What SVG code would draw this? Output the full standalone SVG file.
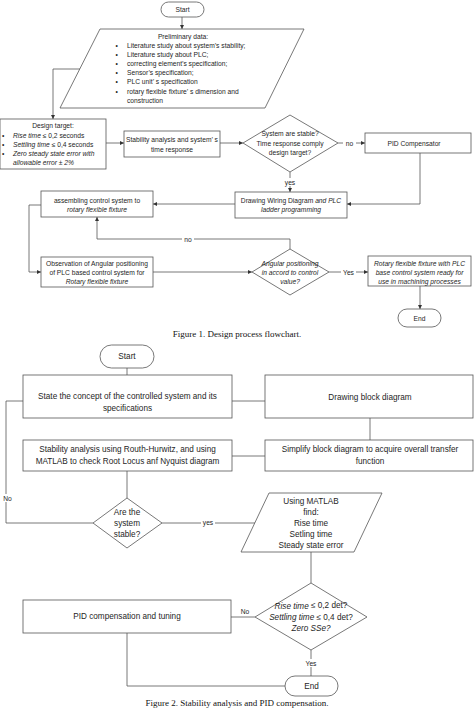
<svg xmlns="http://www.w3.org/2000/svg" width="474" height="708" viewBox="0 0 474 708">
<style>
.s{fill:#fff;stroke:#555;stroke-width:0.8}
.c{fill:none;stroke:#555;stroke-width:0.8}
.a{marker-end:url(#ar)}
.t1{font-family:"Liberation Sans",Arial,sans-serif;font-size:6.7px;fill:#1e1e1e}
.t2{font-family:"Liberation Sans",Arial,sans-serif;font-size:8.2px;fill:#1e1e1e}
.m{text-anchor:middle}
.i{font-style:italic}
.cap{font-family:"Liberation Serif","Times New Roman",serif;font-size:9px;fill:#111;text-anchor:middle}
.bg{fill:#fff}
</style>
<defs>
<marker id="ar" viewBox="0 0 6 6" refX="6" refY="3" markerWidth="4" markerHeight="4" orient="auto" markerUnits="userSpaceOnUse"><path d="M0,0 L6,3 L0,6 z" fill="#333"/></marker>
</defs>
<rect width="474" height="708" fill="#fff"/>

<!-- Figure 1 connectors -->
<g id="connectors1">
<path class="c a" d="M182,17 V29"/>
<path class="c a" d="M80,69 H53 V119"/>
<path class="c a" d="M106,143 H124"/>
<path class="c a" d="M220,143 H243"/>
<path class="c a" d="M338,143 H365"/>
<path class="c a" d="M290,172 V192"/>
<path class="c a" d="M420,153 V204 H347"/>
<path class="c a" d="M235,204 H153"/>
<path class="c a" d="M41,205 H29 V272 H41"/>
<path class="c a" d="M153,272 H252"/>
<path class="c a" d="M290,249 V239 H97 V217"/>
<path class="c a" d="M329,272 H368"/>
<path class="c a" d="M420,286 V309"/>
<rect class="bg" x="343" y="139" width="13" height="8"/>
<text class="t1 m" x="349.5" y="143" dominant-baseline="central">no</text>
<rect class="bg" x="283" y="178" width="14" height="8"/>
<text class="t1 m" x="290" y="182" dominant-baseline="central">yes</text>
<rect class="bg" x="182" y="235" width="12" height="8"/>
<text class="t1 m" x="188" y="239" dominant-baseline="central">no</text>
<rect class="bg" x="341" y="268" width="15" height="8"/>
<text class="t1 m" x="348.5" y="272" dominant-baseline="central">Yes</text>
</g>

<g id="start1">
<rect class="s" x="161" y="2" width="43" height="15" rx="7.5"/>
<text class="t1 m" x="182.5" y="9.8" dominant-baseline="central">Start</text>
</g>

<g id="preliminary">
<polygon class="s" points="100,29 304,29 265,108 60,108"/>
<text class="t1 m" x="183" y="36" dominant-baseline="central">Preliminary data:</text>
<g class="t1">
<text x="115.5" y="45.3" dominant-baseline="central">•</text>
<text x="127" y="45.3" dominant-baseline="central">Literature study about system’s stability;</text>
<text x="115.5" y="54.3" dominant-baseline="central">•</text>
<text x="127" y="54.3" dominant-baseline="central">Literature study about PLC;</text>
<text x="115.5" y="63.3" dominant-baseline="central">•</text>
<text x="127" y="63.3" dominant-baseline="central">correcting element’s specification;</text>
<text x="115.5" y="72.3" dominant-baseline="central">•</text>
<text x="127" y="72.3" dominant-baseline="central">Sensor’s specification;</text>
<text x="115.5" y="81.6" dominant-baseline="central">•</text>
<text x="127" y="81.6" dominant-baseline="central">PLC unit’ s specification</text>
<text x="115.5" y="91" dominant-baseline="central">•</text>
<text x="127" y="91" dominant-baseline="central">rotary flexible fixture’ s dimension and</text>
<text x="127" y="100.5" dominant-baseline="central">construction</text>
</g>
</g>

<g id="design-target">
<rect class="s" x="0" y="119" width="106" height="50"/>
<text class="t1 m" x="53" y="125.5" dominant-baseline="central">Design target:</text>
<g class="t1">
<text x="2" y="135" dominant-baseline="central">•</text>
<text x="13" y="135" dominant-baseline="central"><tspan class="i">Rise time</tspan> ≤ 0,2 seconds</text>
<text x="2" y="144" dominant-baseline="central">•</text>
<text x="13" y="144" dominant-baseline="central"><tspan class="i">Settling time</tspan> ≤ 0,4 seconds</text>
<text x="2" y="153" dominant-baseline="central">•</text>
<text class="i" x="13" y="153" dominant-baseline="central">Zero steady state error with</text>
<text class="i" x="13" y="162" dominant-baseline="central">allowable error ± 2%</text>
</g>
</g>

<g id="stability1">
<rect class="s" x="124" y="131" width="96" height="26"/>
<text class="t1 m" x="172" y="139" dominant-baseline="central">Stability analysis and system’ s</text>
<text class="t1 m" x="172" y="149" dominant-baseline="central">time response</text>
</g>

<g id="decision1">
<polygon class="s" points="290,115 338,143 290,172 243,143"/>
<text class="t1 m" x="290" y="133.5" dominant-baseline="central">System are stable?</text>
<text class="t1 m" x="290" y="143" dominant-baseline="central">Time response comply</text>
<text class="t1 m" x="290" y="152.5" dominant-baseline="central">design target?</text>
</g>

<g id="pid1">
<rect class="s" x="365" y="133" width="106" height="20"/>
<text class="t1 m" x="414" y="143" dominant-baseline="central">PID Compensator</text>
</g>

<g id="wiring">
<rect class="s" x="235" y="192" width="112" height="26"/>
<text class="t1 m" x="291" y="200" dominant-baseline="central">Drawing Wiring Diagram <tspan class="i">and PLC</tspan></text>
<text class="t1 m i" x="291" y="209.5" dominant-baseline="central">ladder programming</text>
</g>

<g id="assembling">
<rect class="s" x="41" y="191" width="112" height="26"/>
<text class="t1 m" x="97" y="200" dominant-baseline="central">assembling  control system to</text>
<text class="t1 m i" x="97" y="209.5" dominant-baseline="central">rotary flexible fixture</text>
</g>

<g id="observation">
<rect class="s" x="41" y="257" width="112" height="30"/>
<text class="t1 m" x="97" y="263" dominant-baseline="central">Observation of Angular positioning</text>
<text class="t1 m" x="97" y="272" dominant-baseline="central">of PLC based control system for</text>
<text class="t1 m i" x="97" y="281" dominant-baseline="central">Rotary flexible fixture</text>
</g>

<g id="decision2">
<polygon class="s" points="290,249 329,272 290,295 252,272"/>
<text class="t1 m i" x="290" y="263" dominant-baseline="central">Angular positioning</text>
<text class="t1 m i" x="290" y="272" dominant-baseline="central">in accord to control</text>
<text class="t1 m i" x="290" y="281" dominant-baseline="central">value?</text>
</g>

<g id="ready">
<rect class="s" x="368" y="256" width="103" height="30"/>
<text class="t1 m i" x="419.5" y="263" dominant-baseline="central">Rotary flexible fixture with PLC</text>
<text class="t1 m i" x="419.5" y="272" dominant-baseline="central">base control system ready for</text>
<text class="t1 m i" x="419.5" y="281" dominant-baseline="central">use in machining processes</text>
</g>

<g id="end1">
<rect class="s" x="398" y="309" width="43" height="18" rx="9"/>
<text class="t1 m" x="419.5" y="318" dominant-baseline="central">End</text>
</g>

<text class="cap" x="237" y="337">Figure 1. Design process flowchart.</text>

<!-- Figure 2 connectors -->
<g id="connectors2">
<path class="c" d="M127,368 V375"/>
<path class="c" d="M232,401 H265"/>
<path class="c" d="M370,418 V440"/>
<path class="c" d="M232,456 H265"/>
<path class="c" d="M127,471 V498"/>
<path class="c" d="M93,523 H6 V401 H23"/>
<path class="c" d="M162,523 H255"/>
<path class="c" d="M311,552 V583"/>
<path class="c" d="M255,617 H231"/>
<path class="c" d="M311,650 V676"/>
<path class="c" d="M127,633 V686 H285"/>
<rect class="bg" x="2" y="494" width="11" height="8"/>
<text class="t1 m" x="7.5" y="498" dominant-baseline="central">No</text>
<rect class="bg" x="201" y="519" width="14" height="8"/>
<text class="t1 m" x="208" y="522.5" dominant-baseline="central">yes</text>
<text class="t1 m" x="245" y="611" dominant-baseline="central">No</text>
<rect class="bg" x="304" y="659" width="14" height="8"/>
<text class="t1 m" x="311" y="663" dominant-baseline="central">Yes</text>
</g>

<g id="start2">
<rect class="s" x="100" y="345" width="54" height="23" rx="11.5"/>
<text class="t2 m" x="127" y="356.5" dominant-baseline="central">Start</text>
</g>

<g id="concept">
<rect class="s" x="23" y="375" width="209" height="43"/>
<text class="t2 m" x="127.5" y="396.5" dominant-baseline="central">State the concept of the controlled system and its</text>
<text class="t2 m" x="127.5" y="408.5" dominant-baseline="central">specifications</text>
</g>

<g id="block-diagram">
<rect class="s" x="265" y="375" width="208" height="43"/>
<text class="t2 m" x="370" y="397" dominant-baseline="central">Drawing block diagram</text>
</g>

<g id="simplify">
<rect class="s" x="265" y="440" width="208" height="31"/>
<text class="t2 m" x="370" y="449.5" dominant-baseline="central">Simplify block diagram to acquire overall transfer</text>
<text class="t2 m" x="370" y="461.5" dominant-baseline="central">function</text>
</g>

<g id="stability2">
<rect class="s" x="23" y="440" width="209" height="31"/>
<text class="t2 m" x="127.5" y="449.5" dominant-baseline="central">Stability analysis using Routh-Hurwitz, and using</text>
<text class="t2 m" x="127.5" y="461.5" dominant-baseline="central">MATLAB to check Root Locus anf Nyquist diagram</text>
</g>

<g id="decision3">
<polygon class="s" points="127,498 162,523 127,548 93,523"/>
<text class="t2 m" x="127" y="512" dominant-baseline="central">Are the</text>
<text class="t2 m" x="127" y="523" dominant-baseline="central">system</text>
<text class="t2 m" x="127" y="534" dominant-baseline="central">stable?</text>
</g>

<g id="matlab">
<polygon class="s" points="269,493 382,493 354,552 241,552"/>
<text class="t2 m" x="311" y="501.5" dominant-baseline="central">Using MATLAB</text>
<text class="t2 m" x="311" y="512.5" dominant-baseline="central">find:</text>
<text class="t2 m" x="311" y="523.5" dominant-baseline="central">Rise time</text>
<text class="t2 m" x="311" y="534.5" dominant-baseline="central">Setling time</text>
<text class="t2 m" x="311" y="545.5" dominant-baseline="central">Steady state error</text>
</g>

<g id="decision4">
<polygon class="s" points="311,583 367,617 311,650 255,617"/>
<text class="t2 m" x="311" y="605.5" dominant-baseline="central"><tspan class="i">Rise time</tspan> ≤ 0,2 det?</text>
<text class="t2 m" x="311" y="617" dominant-baseline="central"><tspan class="i">Settling time</tspan> ≤ 0,4 det?</text>
<text class="t2 m i" x="311" y="628" dominant-baseline="central">Zero SSe?</text>
</g>

<g id="pid2">
<rect class="s" x="23" y="600" width="208" height="33"/>
<text class="t2 m" x="127" y="616.5" dominant-baseline="central">PID compensation and tuning</text>
</g>

<g id="end2">
<rect class="s" x="285" y="676" width="53" height="20" rx="10"/>
<text class="t2 m" x="311.5" y="686" dominant-baseline="central">End</text>
</g>

<text class="cap" x="237" y="706">Figure 2. Stability analysis and PID compensation.</text>
</svg>
